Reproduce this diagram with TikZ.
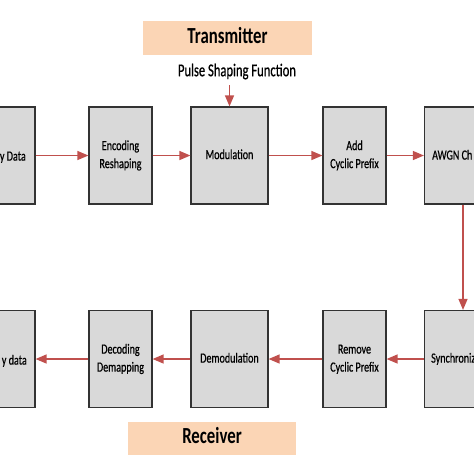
\documentclass[tikz,border=0pt]{standalone}
\usepackage{fontspec}
\setmainfont{Carlito}
\newfontfamily\heavyfont[FakeBold=0.8]{Carlito}
\usepackage{graphicx}
\usetikzlibrary{arrows.meta}
\definecolor{blockgray}{RGB}{217,217,217}
\definecolor{arrowred}{RGB}{192,80,77}
\definecolor{peach}{RGB}{251,213,181}
\newcommand{\squeeze}[2][0.72]{\scalebox{#1}[1]{\begin{tabular}{@{}c@{}}#2\end{tabular}}}

\begin{document}
\begin{tikzpicture}[x=1pt,y=-1pt,
    block/.style={draw=black!80,fill=blockgray,line width=1.2pt,minimum width=63pt,
      minimum height=97pt,inner sep=0pt,font=\heavyfont\fontsize{14}{18}\selectfont},
    wide/.style={block,minimum width=77pt},
    txt/.style={inner sep=0pt,font=\heavyfont\fontsize{14}{18}\selectfont},
    title/.style={fill=peach,minimum height=34pt,inner sep=0pt,font=\fontsize{23}{26}\selectfont\bfseries},
    flow/.style={draw=arrowred,line width=1.3pt,-{Triangle[length=11pt,width=9pt]}}]
    \useasboundingbox (0,0) rectangle (474,474);
    \clip (0,0) rectangle (474,474);
    % transmitter chain
    \node[title,minimum width=169pt](tx)at(227.5,38){\squeeze[0.73]{Transmitter}};
    \node[txt,font=\heavyfont\fontsize{18}{21}\selectfont](pulse)at(237,72){\squeeze[0.7]{Pulse Shaping Function}};
    \coordinate(ps)at(229.5,85);
    \node[wide](src)at(-3.5,155.5){};
    \node[txt,anchor=east](srctxt)at(26,157){\squeeze{y Data}};
    \node[block](enc)at(120.5,155.5){\squeeze{Encoding\\Reshaping}};
    \node[wide](mod)at(229.5,155.5){\squeeze{Modulation}};
    \node[block](addcp)at(354.5,155.5){\squeeze{Add\\Cyclic Prefix}};
    \node[wide](awgn)at(463,155.5){};
    \node[txt,anchor=west](awgntxt)at(432,156){\squeeze{AWGN Ch}};
    % receiver chain
    \node[wide](sync)at(463,359){};
    \node[txt,anchor=west](synctxt)at(431,359){\squeeze{Synchroniz}};
    \node[block](remcp)at(354.5,359){\squeeze{Remove\\Cyclic Prefix}};
    \node[wide](demod)at(229.5,359){\squeeze{Demodulation}};
    \node[block](dec)at(120.5,359){\squeeze{Decoding\\Demapping}};
    \node[wide](sink)at(-3.5,359){};
    \node[txt,anchor=east](sinktxt)at(27,361){\squeeze{y data}};
    \node[title,minimum width=168pt,minimum height=33pt](rx)at(212,438.5){\squeeze[0.73]{Receiver}};
    % connectors
    \draw[flow](ps)--(mod.north);
    \draw[flow](src.east)--(enc.west);
    \draw[flow](enc.east)--(mod.west);
    \draw[flow](mod.east)--(addcp.west);
    \draw[flow](addcp.east)--(awgn.west);
    \draw[flow](awgn.south)--(sync.north);
    \draw[flow](sync.west)--(remcp.east);
    \draw[flow](remcp.west)--(demod.east);
    \draw[flow](demod.west)--(dec.east);
    \draw[flow](dec.west)--(sink.east);
\end{tikzpicture}
\end{document}
